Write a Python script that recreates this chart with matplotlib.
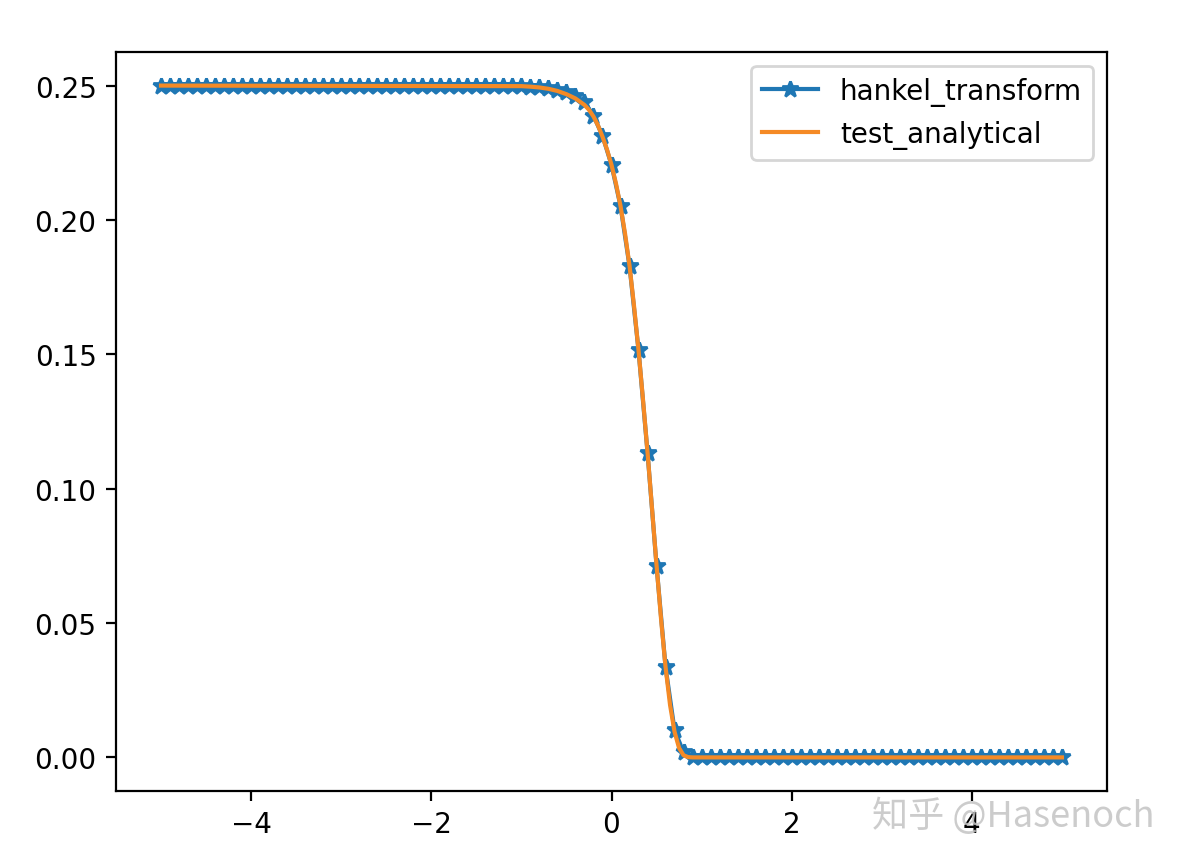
import numpy as np
import matplotlib
matplotlib.use("Agg")
import matplotlib.pyplot as plt

# Hankel transform samples on x = -5.0 ... 5.0 step 0.1
hankel_x = np.linspace(-5.0, 5.0, 101)
hankel_y = (
    [0.25, 0.25, 0.25, 0.25, 0.25, 0.25, 0.25, 0.25, 0.25, 0.25,
     0.25, 0.25, 0.25, 0.25, 0.25, 0.25, 0.25, 0.25, 0.25, 0.25,
     0.25, 0.25, 0.25, 0.25, 0.25, 0.25, 0.25, 0.25, 0.25, 0.25,
     0.2500, 0.2500, 0.2500, 0.2500, 0.2499, 0.2499, 0.2499, 0.2498, 0.2498, 0.2497,
     0.2497,                                              # x = -1.0
     0.2496, 0.2495, 0.2491, 0.2485, 0.2478, 0.2463, 0.2440, 0.2388, 0.2313,  # -0.9 .. -0.1
     0.2205, 0.2052, 0.1828, 0.1515, 0.1134, 0.0713, 0.0336, 0.0101, 0.0019,  # 0.0 .. 0.8
     0.0003,                                              # 0.9
     0.0, 0.0, 0.0, 0.0, 0.0, 0.0, 0.0, 0.0, 0.0, 0.0,
     0.0, 0.0, 0.0, 0.0, 0.0, 0.0, 0.0, 0.0, 0.0, 0.0,
     0.0, 0.0, 0.0, 0.0, 0.0, 0.0, 0.0, 0.0, 0.0, 0.0,
     0.0, 0.0, 0.0, 0.0, 0.0, 0.0, 0.0, 0.0, 0.0, 0.0,
     0.0]
)

# Analytical curve
analytical_x = [-5.0, -1.0, -0.9, -0.8, -0.7, -0.6, -0.5, -0.4, -0.3, -0.25, -0.2, -0.15,
                -0.1, -0.05, 0.0, 0.05, 0.1, 0.15, 0.2, 0.25, 0.3, 0.35, 0.4, 0.45, 0.5,
                0.55, 0.6, 0.65, 0.7, 0.75, 0.8, 0.85, 0.9, 1.0, 5.0]
analytical_y = [0.25, 0.2498, 0.2496, 0.2493, 0.2488, 0.2480, 0.2468, 0.2452, 0.2428, 0.2410,
                0.2385, 0.2352, 0.2310, 0.2262, 0.2205, 0.2135, 0.2052, 0.1950, 0.1830,
                0.1680, 0.1515, 0.1330, 0.1135, 0.0925, 0.0715, 0.0515, 0.0336, 0.0195,
                0.0095, 0.0035, 0.0008, 0.0001, 0.0, 0.0, 0.0]

labels = ["hankel_transform", "test_analytical"]

W, H, DPI = 1186, 862, 200
fig = plt.figure(figsize=(W / DPI, H / DPI), dpi=DPI)
ax = fig.add_axes([116 / W, (H - 792) / H, 991 / W, 739 / H])

ax.plot(hankel_x, hankel_y, marker="*", color="#1f77b4", label=labels[0])
ax.plot(analytical_x, analytical_y, color="#f58a25", label=labels[1])

ax.set_xticks([-4, -2, 0, 2, 4])
ax.set_yticks([0.0, 0.05, 0.10, 0.15, 0.20, 0.25])
ax.legend(loc="upper right")

fig.text(1155 / W, (H - 816) / H, "知乎 @Hasenoch", ha="right", va="center",
         fontsize=13, color="#c4c4c4", alpha=0.85,
         family=["Noto Sans CJK SC", "DejaVu Sans"])

fig.savefig("out.png", dpi=DPI)
